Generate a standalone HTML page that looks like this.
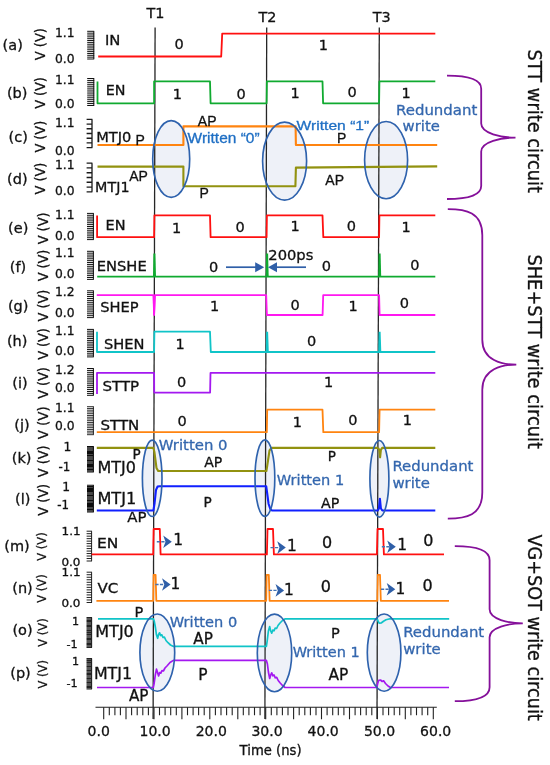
<!DOCTYPE html>
<html><head><meta charset="utf-8"><title>Timing diagram</title>
<style>html,body{margin:0;padding:0;background:#fff}svg{display:block}</style></head>
<body>
<svg width="550" height="765" viewBox="0 0 550 765">
<rect width="550" height="765" fill="#fff"/>
<ellipse cx="171.2" cy="159" rx="18.5" ry="38.4" fill="#eef1f8" stroke="none"/>
<ellipse cx="284.6" cy="161.1" rx="22" ry="39" fill="#eef1f8" stroke="none"/>
<ellipse cx="386.1" cy="160.1" rx="21.5" ry="38.6" fill="#eef1f8" stroke="none"/>
<ellipse cx="152.2" cy="478.3" rx="9.8" ry="38.2" fill="#eef1f8" stroke="none"/>
<ellipse cx="264.9" cy="478.1" rx="9.9" ry="38.3" fill="#eef1f8" stroke="none"/>
<ellipse cx="379.4" cy="478.8" rx="9.5" ry="38.3" fill="#eef1f8" stroke="none"/>
<ellipse cx="157.3" cy="652.6" rx="17.4" ry="38.6" fill="#eef1f8" stroke="none"/>
<ellipse cx="274.5" cy="652.9" rx="17.2" ry="38.8" fill="#eef1f8" stroke="none"/>
<ellipse cx="384.1" cy="652.6" rx="16.8" ry="38.6" fill="#eef1f8" stroke="none"/>
<text x="12.7" y="49.9" font-size="14.5" fill="#111" stroke="#111" stroke-width="0.3" font-family="DejaVu Sans, Liberation Sans, sans-serif" text-anchor="middle" >(a)</text>
<text x="17.2" y="97.9" font-size="14.5" fill="#111" stroke="#111" stroke-width="0.3" font-family="DejaVu Sans, Liberation Sans, sans-serif" text-anchor="middle" >(b)</text>
<text x="18.2" y="141.6" font-size="14.5" fill="#111" stroke="#111" stroke-width="0.3" font-family="DejaVu Sans, Liberation Sans, sans-serif" text-anchor="middle" >(c)</text>
<text x="17.3" y="183.6" font-size="14.5" fill="#111" stroke="#111" stroke-width="0.3" font-family="DejaVu Sans, Liberation Sans, sans-serif" text-anchor="middle" >(d)</text>
<text x="18.2" y="232.8" font-size="14.5" fill="#111" stroke="#111" stroke-width="0.3" font-family="DejaVu Sans, Liberation Sans, sans-serif" text-anchor="middle" >(e)</text>
<text x="18.0" y="272.0" font-size="14.5" fill="#111" stroke="#111" stroke-width="0.3" font-family="DejaVu Sans, Liberation Sans, sans-serif" text-anchor="middle" >(f)</text>
<text x="18.2" y="310.6" font-size="14.5" fill="#111" stroke="#111" stroke-width="0.3" font-family="DejaVu Sans, Liberation Sans, sans-serif" text-anchor="middle" >(g)</text>
<text x="17.2" y="346.2" font-size="14.5" fill="#111" stroke="#111" stroke-width="0.3" font-family="DejaVu Sans, Liberation Sans, sans-serif" text-anchor="middle" >(h)</text>
<text x="20.0" y="388.2" font-size="14.5" fill="#111" stroke="#111" stroke-width="0.3" font-family="DejaVu Sans, Liberation Sans, sans-serif" text-anchor="middle" >(i)</text>
<text x="21.9" y="429.8" font-size="14.5" fill="#111" stroke="#111" stroke-width="0.3" font-family="DejaVu Sans, Liberation Sans, sans-serif" text-anchor="middle" >(j)</text>
<text x="21.6" y="462.9" font-size="14.5" fill="#111" stroke="#111" stroke-width="0.3" font-family="DejaVu Sans, Liberation Sans, sans-serif" text-anchor="middle" >(k)</text>
<text x="22.7" y="504.3" font-size="14.5" fill="#111" stroke="#111" stroke-width="0.3" font-family="DejaVu Sans, Liberation Sans, sans-serif" text-anchor="middle" >(l)</text>
<text x="17.0" y="551.1" font-size="14.5" fill="#111" stroke="#111" stroke-width="0.3" font-family="DejaVu Sans, Liberation Sans, sans-serif" text-anchor="middle" >(m)</text>
<text x="22.5" y="593.1" font-size="14.5" fill="#111" stroke="#111" stroke-width="0.3" font-family="DejaVu Sans, Liberation Sans, sans-serif" text-anchor="middle" >(n)</text>
<text x="22.5" y="635.3" font-size="14.5" fill="#111" stroke="#111" stroke-width="0.3" font-family="DejaVu Sans, Liberation Sans, sans-serif" text-anchor="middle" >(o)</text>
<text x="20.5" y="677.9" font-size="14.5" fill="#111" stroke="#111" stroke-width="0.3" font-family="DejaVu Sans, Liberation Sans, sans-serif" text-anchor="middle" >(p)</text>
<text transform="translate(45.1,44.2) rotate(-90) scale(0.92,1)" font-size="14.2" fill="#111" stroke="#111" stroke-width="0.3" font-family="DejaVu Sans, Liberation Sans, sans-serif" text-anchor="middle">V (V)</text>
<text transform="translate(45.3,93.0) rotate(-90) scale(0.92,1)" font-size="14" fill="#111" stroke="#111" stroke-width="0.3" font-family="DejaVu Sans, Liberation Sans, sans-serif" text-anchor="middle">V (V)</text>
<text transform="translate(45.3,136.7) rotate(-90) scale(0.92,1)" font-size="14" fill="#111" stroke="#111" stroke-width="0.3" font-family="DejaVu Sans, Liberation Sans, sans-serif" text-anchor="middle">V (V)</text>
<text transform="translate(45.3,178.6) rotate(-90) scale(0.92,1)" font-size="14" fill="#111" stroke="#111" stroke-width="0.3" font-family="DejaVu Sans, Liberation Sans, sans-serif" text-anchor="middle">V (V)</text>
<text transform="translate(48.2,228.4) rotate(-90) scale(0.92,1)" font-size="14" fill="#111" stroke="#111" stroke-width="0.3" font-family="DejaVu Sans, Liberation Sans, sans-serif" text-anchor="middle">V (V)</text>
<text transform="translate(48.2,265.5) rotate(-90) scale(0.92,1)" font-size="14" fill="#111" stroke="#111" stroke-width="0.3" font-family="DejaVu Sans, Liberation Sans, sans-serif" text-anchor="middle">V (V)</text>
<text transform="translate(48.2,305.6) rotate(-90) scale(0.92,1)" font-size="14" fill="#111" stroke="#111" stroke-width="0.3" font-family="DejaVu Sans, Liberation Sans, sans-serif" text-anchor="middle">V (V)</text>
<text transform="translate(48.2,344.0) rotate(-90) scale(0.92,1)" font-size="14" fill="#111" stroke="#111" stroke-width="0.3" font-family="DejaVu Sans, Liberation Sans, sans-serif" text-anchor="middle">V (V)</text>
<text transform="translate(48.2,383.0) rotate(-90) scale(0.92,1)" font-size="14" fill="#111" stroke="#111" stroke-width="0.3" font-family="DejaVu Sans, Liberation Sans, sans-serif" text-anchor="middle">V (V)</text>
<text transform="translate(48.2,422.8) rotate(-90) scale(0.92,1)" font-size="14.6" fill="#111" stroke="#111" stroke-width="0.3" font-family="DejaVu Sans, Liberation Sans, sans-serif" text-anchor="middle">V (V)</text>
<text transform="translate(48.2,461.3) rotate(-90) scale(0.92,1)" font-size="14" fill="#111" stroke="#111" stroke-width="0.3" font-family="DejaVu Sans, Liberation Sans, sans-serif" text-anchor="middle">V (V)</text>
<text transform="translate(48.2,499.8) rotate(-90) scale(0.92,1)" font-size="14" fill="#111" stroke="#111" stroke-width="0.3" font-family="DejaVu Sans, Liberation Sans, sans-serif" text-anchor="middle">V (V)</text>
<text transform="translate(46.4,546.5) rotate(-90) scale(0.92,1)" font-size="12.5" fill="#111" stroke="#111" stroke-width="0.3" font-family="DejaVu Sans, Liberation Sans, sans-serif" text-anchor="middle">V (V)</text>
<text transform="translate(46.4,588.5) rotate(-90) scale(0.92,1)" font-size="12.5" fill="#111" stroke="#111" stroke-width="0.3" font-family="DejaVu Sans, Liberation Sans, sans-serif" text-anchor="middle">V (V)</text>
<text transform="translate(46.6,632.5) rotate(-90) scale(0.92,1)" font-size="12.5" fill="#111" stroke="#111" stroke-width="0.3" font-family="DejaVu Sans, Liberation Sans, sans-serif" text-anchor="middle">V (V)</text>
<text transform="translate(46.6,674.3) rotate(-90) scale(0.92,1)" font-size="12.5" fill="#111" stroke="#111" stroke-width="0.3" font-family="DejaVu Sans, Liberation Sans, sans-serif" text-anchor="middle">V (V)</text>
<text x="55.0" y="36.8" font-size="12.3" fill="#111" stroke="#111" stroke-width="0.3" font-family="DejaVu Sans, Liberation Sans, sans-serif" text-anchor="start" >1.1</text>
<text x="55.0" y="62.5" font-size="12.3" fill="#111" stroke="#111" stroke-width="0.3" font-family="DejaVu Sans, Liberation Sans, sans-serif" text-anchor="start" >0.0</text>
<text x="55.0" y="83.9" font-size="12.3" fill="#111" stroke="#111" stroke-width="0.3" font-family="DejaVu Sans, Liberation Sans, sans-serif" text-anchor="start" >1.1</text>
<text x="55.0" y="108.4" font-size="12.3" fill="#111" stroke="#111" stroke-width="0.3" font-family="DejaVu Sans, Liberation Sans, sans-serif" text-anchor="start" >0.0</text>
<text x="55.0" y="126.9" font-size="12.3" fill="#111" stroke="#111" stroke-width="0.3" font-family="DejaVu Sans, Liberation Sans, sans-serif" text-anchor="start" >1.1</text>
<text x="55.0" y="154.9" font-size="12.3" fill="#111" stroke="#111" stroke-width="0.3" font-family="DejaVu Sans, Liberation Sans, sans-serif" text-anchor="start" >0.0</text>
<text x="55.0" y="168.9" font-size="12.3" fill="#111" stroke="#111" stroke-width="0.3" font-family="DejaVu Sans, Liberation Sans, sans-serif" text-anchor="start" >1.1</text>
<text x="55.0" y="194.9" font-size="12.3" fill="#111" stroke="#111" stroke-width="0.3" font-family="DejaVu Sans, Liberation Sans, sans-serif" text-anchor="start" >0.0</text>
<text x="55.0" y="218.5" font-size="12.3" fill="#111" stroke="#111" stroke-width="0.3" font-family="DejaVu Sans, Liberation Sans, sans-serif" text-anchor="start" >1.1</text>
<text x="55.0" y="240.4" font-size="12.3" fill="#111" stroke="#111" stroke-width="0.3" font-family="DejaVu Sans, Liberation Sans, sans-serif" text-anchor="start" >0.0</text>
<text x="55.0" y="256.9" font-size="12.3" fill="#111" stroke="#111" stroke-width="0.3" font-family="DejaVu Sans, Liberation Sans, sans-serif" text-anchor="start" >1.1</text>
<text x="55.0" y="278.2" font-size="12.3" fill="#111" stroke="#111" stroke-width="0.3" font-family="DejaVu Sans, Liberation Sans, sans-serif" text-anchor="start" >0.0</text>
<text x="55.0" y="295.9" font-size="12.3" fill="#111" stroke="#111" stroke-width="0.3" font-family="DejaVu Sans, Liberation Sans, sans-serif" text-anchor="start" >1.2</text>
<text x="55.0" y="317.4" font-size="12.3" fill="#111" stroke="#111" stroke-width="0.3" font-family="DejaVu Sans, Liberation Sans, sans-serif" text-anchor="start" >0.0</text>
<text x="55.0" y="334.9" font-size="12.3" fill="#111" stroke="#111" stroke-width="0.3" font-family="DejaVu Sans, Liberation Sans, sans-serif" text-anchor="start" >1.1</text>
<text x="55.0" y="355.4" font-size="12.3" fill="#111" stroke="#111" stroke-width="0.3" font-family="DejaVu Sans, Liberation Sans, sans-serif" text-anchor="start" >0.0</text>
<text x="55.0" y="374.0" font-size="12.3" fill="#111" stroke="#111" stroke-width="0.3" font-family="DejaVu Sans, Liberation Sans, sans-serif" text-anchor="start" >1.2</text>
<text x="55.0" y="392.1" font-size="12.3" fill="#111" stroke="#111" stroke-width="0.3" font-family="DejaVu Sans, Liberation Sans, sans-serif" text-anchor="start" >0.0</text>
<text x="55.0" y="412.4" font-size="12.3" fill="#111" stroke="#111" stroke-width="0.3" font-family="DejaVu Sans, Liberation Sans, sans-serif" text-anchor="start" >1.1</text>
<text x="55.0" y="430.4" font-size="12.3" fill="#111" stroke="#111" stroke-width="0.3" font-family="DejaVu Sans, Liberation Sans, sans-serif" text-anchor="start" >0.0</text>
<text x="63.6" y="451.4" font-size="12.3" fill="#111" stroke="#111" stroke-width="0.3" font-family="DejaVu Sans, Liberation Sans, sans-serif" text-anchor="start" >1</text>
<text x="58.6" y="470.6" font-size="11.8" fill="#111" stroke="#111" stroke-width="0.3" font-family="DejaVu Sans, Liberation Sans, sans-serif" text-anchor="start" >-1</text>
<text x="62.3" y="490.9" font-size="12.3" fill="#111" stroke="#111" stroke-width="0.3" font-family="DejaVu Sans, Liberation Sans, sans-serif" text-anchor="start" >1</text>
<text x="57.3" y="508.6" font-size="11.8" fill="#111" stroke="#111" stroke-width="0.3" font-family="DejaVu Sans, Liberation Sans, sans-serif" text-anchor="start" >-1</text>
<text transform="translate(61.6,535.4) scale(1.1,1)" font-size="10.9" fill="#111" stroke="#111" stroke-width="0.3" font-family="DejaVu Sans, Liberation Sans, sans-serif" text-anchor="start">1.1</text>
<text transform="translate(61.4,565.5) scale(1.1,1)" font-size="10.9" fill="#111" stroke="#111" stroke-width="0.3" font-family="DejaVu Sans, Liberation Sans, sans-serif" text-anchor="start">0.0</text>
<text transform="translate(61.6,576.0) scale(1.1,1)" font-size="10.9" fill="#111" stroke="#111" stroke-width="0.3" font-family="DejaVu Sans, Liberation Sans, sans-serif" text-anchor="start">1.1</text>
<text transform="translate(61.4,606.9) scale(1.1,1)" font-size="10.9" fill="#111" stroke="#111" stroke-width="0.3" font-family="DejaVu Sans, Liberation Sans, sans-serif" text-anchor="start">0.0</text>
<text x="72.0" y="625.0" font-size="11.2" fill="#111" stroke="#111" stroke-width="0.3" font-family="DejaVu Sans, Liberation Sans, sans-serif" text-anchor="start" >1</text>
<text x="66.5" y="647.6" font-size="11.2" fill="#111" stroke="#111" stroke-width="0.3" font-family="DejaVu Sans, Liberation Sans, sans-serif" text-anchor="start" >-1</text>
<text x="72.0" y="664.8" font-size="11.2" fill="#111" stroke="#111" stroke-width="0.3" font-family="DejaVu Sans, Liberation Sans, sans-serif" text-anchor="start" >1</text>
<text x="66.5" y="687.2" font-size="11.2" fill="#111" stroke="#111" stroke-width="0.3" font-family="DejaVu Sans, Liberation Sans, sans-serif" text-anchor="start" >-1</text>
<path d="M87.2,31.30H94.2M87.2,33.15H94.2M87.2,34.99H94.2M87.2,36.84H94.2M87.2,38.69H94.2M87.2,40.53H94.2M87.2,42.38H94.2M87.2,44.23H94.2M87.2,46.07H94.2M87.2,47.92H94.2M87.2,49.77H94.2M87.2,51.61H94.2M87.2,53.46H94.2M87.2,55.31H94.2M87.2,57.15H94.2M87.2,59.00H94.2M93.8,31.3V59.0" stroke="#111" stroke-width="1.0" fill="none"/>
<path d="M87.2,78.50H94.2M87.2,80.43H94.2M87.2,82.36H94.2M87.2,84.29H94.2M87.2,86.21H94.2M87.2,88.14H94.2M87.2,90.07H94.2M87.2,92.00H94.2M87.2,93.93H94.2M87.2,95.86H94.2M87.2,97.79H94.2M87.2,99.71H94.2M87.2,101.64H94.2M87.2,103.57H94.2M87.2,105.50H94.2M93.8,78.5V105.5" stroke="#111" stroke-width="1.0" fill="none"/>
<path d="M86.6,119.30H92.4M86.6,124.03H92.4M86.6,128.77H92.4M86.6,133.50H92.4M86.6,138.23H92.4M86.6,142.97H92.4M86.6,147.70H92.4M92.0,119.3V147.7" stroke="#1a1a1a" stroke-width="1.3" fill="none"/>
<path d="M86.6,163.20H92.4M86.6,167.97H92.4M86.6,172.73H92.4M86.6,177.50H92.4M86.6,182.27H92.4M86.6,187.03H92.4M86.6,191.80H92.4M92.0,163.2V191.8" stroke="#1a1a1a" stroke-width="1.3" fill="none"/>
<path d="M87.0,213.40H93.8M87.0,215.27H93.8M87.0,217.14H93.8M87.0,219.01H93.8M87.0,220.89H93.8M87.0,222.76H93.8M87.0,224.63H93.8M87.0,226.50H93.8M87.0,228.37H93.8M87.0,230.24H93.8M87.0,232.11H93.8M87.0,233.99H93.8M87.0,235.86H93.8M87.0,237.73H93.8M87.0,239.60H93.8M93.4,213.4V239.6" stroke="#111" stroke-width="1.0" fill="none"/>
<path d="M87.0,251.30H93.8M87.0,253.17H93.8M87.0,255.05H93.8M87.0,256.92H93.8M87.0,258.79H93.8M87.0,260.67H93.8M87.0,262.54H93.8M87.0,264.41H93.8M87.0,266.29H93.8M87.0,268.16H93.8M87.0,270.03H93.8M87.0,271.91H93.8M87.0,273.78H93.8M87.0,275.65H93.8M87.0,277.53H93.8M87.0,279.40H93.8M93.4,251.3V279.4" stroke="#111" stroke-width="1.0" fill="none"/>
<path d="M87.0,290.80H93.8M87.0,292.71H93.8M87.0,294.63H93.8M87.0,296.54H93.8M87.0,298.46H93.8M87.0,300.37H93.8M87.0,302.29H93.8M87.0,304.20H93.8M87.0,306.11H93.8M87.0,308.03H93.8M87.0,309.94H93.8M87.0,311.86H93.8M87.0,313.77H93.8M87.0,315.69H93.8M87.0,317.60H93.8M93.4,290.8V317.6" stroke="#111" stroke-width="1.0" fill="none"/>
<path d="M87.0,329.40H93.8M87.0,331.23H93.8M87.0,333.07H93.8M87.0,334.90H93.8M87.0,336.73H93.8M87.0,338.57H93.8M87.0,340.40H93.8M87.0,342.23H93.8M87.0,344.07H93.8M87.0,345.90H93.8M87.0,347.73H93.8M87.0,349.57H93.8M87.0,351.40H93.8M87.0,353.23H93.8M87.0,355.07H93.8M87.0,356.90H93.8M93.4,329.4V356.9" stroke="#111" stroke-width="1.0" fill="none"/>
<path d="M87.0,368.50H93.8M87.0,370.41H93.8M87.0,372.33H93.8M87.0,374.24H93.8M87.0,376.16H93.8M87.0,378.07H93.8M87.0,379.99H93.8M87.0,381.90H93.8M87.0,383.81H93.8M87.0,385.73H93.8M87.0,387.64H93.8M87.0,389.56H93.8M87.0,391.47H93.8M87.0,393.39H93.8M87.0,395.30H93.8M93.4,368.5V395.3" stroke="#111" stroke-width="1.0" fill="none"/>
<path d="M87.0,406.70H93.8M87.0,408.45H93.8M87.0,410.20H93.8M87.0,411.95H93.8M87.0,413.70H93.8M87.0,415.45H93.8M87.0,417.20H93.8M87.0,418.95H93.8M87.0,420.70H93.8M87.0,422.45H93.8M87.0,424.20H93.8M87.0,425.95H93.8M87.0,427.70H93.8M87.0,429.45H93.8M87.0,431.20H93.8M87.0,432.95H93.8M87.0,434.70H93.8M93.4,406.7V434.7" stroke="#181818" stroke-width="0.9" fill="none"/>
<path d="M87.0,446.50H93.8M87.0,447.77H93.8M87.0,449.05H93.8M87.0,450.32H93.8M87.0,451.60H93.8M87.0,452.88H93.8M87.0,454.15H93.8M87.0,455.43H93.8M87.0,456.70H93.8M87.0,457.98H93.8M87.0,459.25H93.8M87.0,460.52H93.8M87.0,461.80H93.8M87.0,463.07H93.8M87.0,464.35H93.8M87.0,465.62H93.8M87.0,466.90H93.8M87.0,468.18H93.8M87.0,469.45H93.8M87.0,470.73H93.8M87.0,472.00H93.8M93.4,446.5V472.0" stroke="#0c0c0c" stroke-width="1.08" fill="none"/>
<path d="M87.0,485.30H93.8M87.0,486.57H93.8M87.0,487.84H93.8M87.0,489.11H93.8M87.0,490.39H93.8M87.0,491.66H93.8M87.0,492.93H93.8M87.0,494.20H93.8M87.0,495.47H93.8M87.0,496.74H93.8M87.0,498.01H93.8M87.0,499.29H93.8M87.0,500.56H93.8M87.0,501.83H93.8M87.0,503.10H93.8M87.0,504.37H93.8M87.0,505.64H93.8M87.0,506.91H93.8M87.0,508.19H93.8M87.0,509.46H93.8M87.0,510.73H93.8M87.0,512.00H93.8M93.4,485.3V512.0" stroke="#0c0c0c" stroke-width="1.08" fill="none"/>
<path d="M86.6,531.20H92.0M86.6,533.68H92.0M86.6,536.17H92.0M86.6,538.65H92.0M86.6,541.13H92.0M86.6,543.62H92.0M86.6,546.10H92.0M86.6,548.58H92.0M86.6,551.07H92.0M86.6,553.55H92.0M86.6,556.03H92.0M86.6,558.52H92.0M86.6,561.00H92.0M91.6,531.2V561.0" stroke="#222" stroke-width="1.0" fill="none"/>
<path d="M86.6,572.20H92.0M86.6,574.73H92.0M86.6,577.25H92.0M86.6,579.78H92.0M86.6,582.30H92.0M86.6,584.83H92.0M86.6,587.35H92.0M86.6,589.88H92.0M86.6,592.40H92.0M86.6,594.92H92.0M86.6,597.45H92.0M86.6,599.98H92.0M86.6,602.50H92.0M91.6,572.2V602.5" stroke="#222" stroke-width="1.0" fill="none"/>
<path d="M86.5,617.50H92.0M86.5,618.80H92.0M86.5,620.11H92.0M86.5,621.41H92.0M86.5,622.72H92.0M86.5,624.02H92.0M86.5,625.33H92.0M86.5,626.63H92.0M86.5,627.93H92.0M86.5,629.24H92.0M86.5,630.54H92.0M86.5,631.85H92.0M86.5,633.15H92.0M86.5,634.46H92.0M86.5,635.76H92.0M86.5,637.07H92.0M86.5,638.37H92.0M86.5,639.67H92.0M86.5,640.98H92.0M86.5,642.28H92.0M86.5,643.59H92.0M86.5,644.89H92.0M86.5,646.20H92.0M86.5,647.50H92.0M91.6,617.5V647.5" stroke="#222" stroke-width="1.1" fill="none"/>
<path d="M86.5,658.50H92.0M86.5,659.83H92.0M86.5,661.15H92.0M86.5,662.48H92.0M86.5,663.80H92.0M86.5,665.13H92.0M86.5,666.46H92.0M86.5,667.78H92.0M86.5,669.11H92.0M86.5,670.43H92.0M86.5,671.76H92.0M86.5,673.09H92.0M86.5,674.41H92.0M86.5,675.74H92.0M86.5,677.07H92.0M86.5,678.39H92.0M86.5,679.72H92.0M86.5,681.04H92.0M86.5,682.37H92.0M86.5,683.70H92.0M86.5,685.02H92.0M86.5,686.35H92.0M86.5,687.67H92.0M86.5,689.00H92.0M91.6,658.5V689.0" stroke="#222" stroke-width="1.1" fill="none"/>
<line x1="155.1" y1="27.4" x2="153.1" y2="719" stroke="#262626" stroke-width="1.3"/>
<line x1="266.7" y1="27.4" x2="264.9" y2="719" stroke="#262626" stroke-width="1.3"/>
<line x1="379.3" y1="27.4" x2="377.0" y2="719" stroke="#262626" stroke-width="1.3"/>
<text x="155.5" y="17.8" font-size="14.4" fill="#111" stroke="#111" stroke-width="0.3" font-family="DejaVu Sans, Liberation Sans, sans-serif" text-anchor="middle" >T1</text>
<text x="267.5" y="21.8" font-size="14.4" fill="#111" stroke="#111" stroke-width="0.3" font-family="DejaVu Sans, Liberation Sans, sans-serif" text-anchor="middle" >T2</text>
<text x="381.8" y="21.8" font-size="14.4" fill="#111" stroke="#111" stroke-width="0.3" font-family="DejaVu Sans, Liberation Sans, sans-serif" text-anchor="middle" >T3</text>
<polyline points="98.2,56.5 221.2,56.5 222.2,33.6 435.3,33.6" fill="none" stroke="#ff1010" stroke-width="1.8" stroke-linejoin="round" />
<polyline points="97.5,81.4 97.5,103.3 154.1,103.3 154.1,81.4 210.0,81.4 210.6,103.3 266.6,103.3 266.9,81.4 322.5,81.4 323.1,103.3 379.1,103.3 379.4,81.4 435.3,81.4" fill="none" stroke="#10aa30" stroke-width="1.8" stroke-linejoin="round" />
<polyline points="97.5,145.0 183.4,145.0 183.4,126.4 295.6,126.4 295.9,145.0 437.2,145.0" fill="none" stroke="#ff8410" stroke-width="2.1" stroke-linejoin="round" />
<polyline points="97.5,166.6 183.4,166.6 183.4,186.2 295.4,186.2 295.9,167.6 437.2,166.4" fill="none" stroke="#929210" stroke-width="2.1" stroke-linejoin="round" />
<polyline points="97.1,215.4 97.1,237.2 154.1,237.2 154.4,215.4 210.0,215.4 210.6,237.2 266.6,237.2 266.9,215.4 322.5,215.4 323.3,237.2 379.1,237.2 379.4,215.4 435.3,215.4" fill="none" stroke="#ff1010" stroke-width="1.8" stroke-linejoin="round" />
<polyline points="97.2,276.7 435.3,276.7" fill="none" stroke="#10aa30" stroke-width="1.8" stroke-linejoin="round" />
<path d="M153.0,276.7L153.4,253.6L155.4,253.6L156.0,276.7Z" fill="#10aa30"/>
<path d="M265.7,276.7L266.1,253.6L268.1,253.6L268.7,276.7Z" fill="#10aa30"/>
<path d="M378.2,276.7L378.6,253.6L380.6,253.6L381.2,276.7Z" fill="#10aa30"/>
<polyline points="96.8,295.2 153.5,295.2 154.1,315.0 154.9,295.2 266.2,295.2 266.9,315.0 322.6,315.0 323.2,295.2 379.1,295.2 379.6,315.0 435.3,315.0" fill="none" stroke="#ff18f0" stroke-width="1.8" stroke-linejoin="round" />
<path d="M152.8,295.2L153.2,315L155.0,315L155.6,295.2Z" fill="#ff18f0"/>
<polyline points="97.0,331.7 97.0,352.0 154.1,352.0 154.4,331.7 210.0,331.7 210.8,352.0 435.3,352.0" fill="none" stroke="#10c4c8" stroke-width="1.8" stroke-linejoin="round" />
<path d="M265.7,352L266.1,331.7L268.1,331.7L268.8,352Z" fill="#10c4c8"/>
<path d="M378.2,352L378.6,331.7L380.6,331.7L381.3,352Z" fill="#10c4c8"/>
<polyline points="97.0,394.1 97.0,372.9 154.1,372.9 154.2,392.6 210.1,392.6 210.5,372.9 435.3,372.9" fill="none" stroke="#a418f0" stroke-width="1.8" stroke-linejoin="round" />
<polyline points="96.8,432.2 266.8,432.2 267.2,409.7 322.5,409.7 323.3,432.2 379.1,432.2 379.6,409.7 435.3,409.7" fill="none" stroke="#ff8410" stroke-width="1.8" stroke-linejoin="round" />
<polyline points="96.8,447.9 153.4,447.9 154.4,452.0 156.5,468.0 158.2,471.0 266.4,471.0 267.2,466.0 269.5,450.5 271.5,447.9 378.2,447.9" fill="none" stroke="#929210" stroke-width="2.1" stroke-linejoin="round" />
<polyline points="378.2,447.9 379.3,449.9 380.1,457.3 380.9,449.9 382.2,447.9 435.3,447.9" fill="none" stroke="#929210" stroke-width="2.1" stroke-linejoin="round" />
<polyline points="96.8,510.5 153.4,510.5 154.6,503.0 156.0,490.0 157.5,486.6 159.5,486.2 266.2,486.2 267.0,492.0 268.6,504.0 270.3,509.0 272.0,510.5 377.8,510.5 378.9,508.5 379.9,498.7 380.9,508.5 382.3,510.5 435.3,510.5" fill="none" stroke="#1020ff" stroke-width="2.1" stroke-linejoin="round" />
<polyline points="91.6,554.4 153.2,554.4 153.6,529.0 159.8,529.0 160.6,554.4 266.9,554.4 267.5,529.0 273.0,529.0 273.9,554.4 376.9,554.4 377.5,529.0 383.0,529.0 383.9,554.4 444.0,554.4" fill="none" stroke="#ff1010" stroke-width="1.8" stroke-linejoin="round" />
<polyline points="96.4,600.8 153.2,600.8 153.6,574.8 155.6,574.8 156.3,600.8 266.2,600.8 266.7,574.8 268.8,574.8 269.6,600.8 377.3,600.8 377.8,574.8 380.0,574.8 380.8,600.8 449.0,600.8" fill="none" stroke="#ff8410" stroke-width="1.8" stroke-linejoin="round" />
<polyline points="98.0,618.8 153.4,618.8 154.2,621.0 155.5,628.0 156.4,634.5 157.6,638.3 158.6,634.5 159.6,632.8 160.6,635.5 161.8,634.8 163.0,637.5 164.4,637.2 166.0,640.5 168.0,642.7 170.5,645.0 173.5,646.4 266.4,646.4 267.3,640.0 268.4,631.0 269.7,626.6 270.7,631.0 271.7,633.2 272.8,630.0 274.0,630.8 275.2,628.0 276.6,628.5 278.0,625.5 280.0,623.0 282.5,620.5 285.3,618.8 377.2,618.8 378.2,621.5 379.3,623.2 381.5,622.8 383.5,621.3 386.0,619.8 390.0,618.8 449.2,618.8" fill="none" stroke="#10c4c8" stroke-width="1.7" stroke-linejoin="round" />
<polyline points="97.0,687.5 153.3,687.5 154.2,683.0 155.3,675.0 156.5,669.2 157.6,672.5 158.6,676.0 159.7,672.5 160.8,673.2 162.0,670.5 163.4,671.0 165.0,668.0 167.4,665.5 170.0,662.5 173.4,660.4 266.4,660.4 267.4,664.0 268.4,672.0 269.7,678.5 270.7,675.0 271.7,672.8 272.8,675.8 274.0,675.0 275.3,677.8 276.7,677.3 278.2,680.5 280.2,683.0 282.5,685.5 285.0,687.5 376.8,687.5 377.8,683.0 378.8,680.3 380.5,680.0 382.2,681.5 383.6,680.8 385.5,683.5 388.0,686.0 390.5,687.5 449.0,687.5" fill="none" stroke="#a418f0" stroke-width="1.7" stroke-linejoin="round" />
<ellipse cx="171.2" cy="159" rx="18.5" ry="38.4" fill="none" stroke="#2e62ad" stroke-width="1.65"/>
<ellipse cx="284.6" cy="161.1" rx="22" ry="39" fill="none" stroke="#2e62ad" stroke-width="1.65"/>
<ellipse cx="386.1" cy="160.1" rx="21.5" ry="38.6" fill="none" stroke="#2e62ad" stroke-width="1.65"/>
<ellipse cx="152.2" cy="478.3" rx="9.8" ry="38.2" fill="none" stroke="#2e62ad" stroke-width="1.65"/>
<ellipse cx="264.9" cy="478.1" rx="9.9" ry="38.3" fill="none" stroke="#2e62ad" stroke-width="1.65"/>
<ellipse cx="379.4" cy="478.8" rx="9.5" ry="38.3" fill="none" stroke="#2e62ad" stroke-width="1.65"/>
<ellipse cx="157.3" cy="652.6" rx="17.4" ry="38.6" fill="none" stroke="#2e62ad" stroke-width="1.65"/>
<ellipse cx="274.5" cy="652.9" rx="17.2" ry="38.8" fill="none" stroke="#2e62ad" stroke-width="1.65"/>
<ellipse cx="384.1" cy="652.6" rx="16.8" ry="38.6" fill="none" stroke="#2e62ad" stroke-width="1.65"/>
<text transform="translate(104.9,45.2) scale(1.03,1)" font-size="14.4" fill="#111" stroke="#111" stroke-width="0.3" font-family="DejaVu Sans, Liberation Sans, sans-serif" text-anchor="start">IN</text>
<text transform="translate(105.8,94.9) scale(1.045,1)" font-size="13.7" fill="#111" stroke="#111" stroke-width="0.3" font-family="DejaVu Sans, Liberation Sans, sans-serif" text-anchor="start">EN</text>
<text transform="translate(96.2,141.9) scale(1.0,1)" font-size="14.6" fill="#111" stroke="#111" stroke-width="0.3" font-family="DejaVu Sans, Liberation Sans, sans-serif" text-anchor="start">MTJ0</text>
<text transform="translate(95.1,192.3) scale(1.0,1)" font-size="14.3" fill="#111" stroke="#111" stroke-width="0.3" font-family="DejaVu Sans, Liberation Sans, sans-serif" text-anchor="start">MTJ1</text>
<text transform="translate(105.6,229.6) scale(1.066,1)" font-size="13.6" fill="#111" stroke="#111" stroke-width="0.3" font-family="DejaVu Sans, Liberation Sans, sans-serif" text-anchor="start">EN</text>
<text transform="translate(96.8,271.0) scale(1.08,1)" font-size="13.6" fill="#111" stroke="#111" stroke-width="0.3" font-family="DejaVu Sans, Liberation Sans, sans-serif" text-anchor="start">ENSHE</text>
<text transform="translate(100.3,311.6) scale(1.07,1)" font-size="13.7" fill="#111" stroke="#111" stroke-width="0.3" font-family="DejaVu Sans, Liberation Sans, sans-serif" text-anchor="start">SHEP</text>
<text transform="translate(104.0,348.5) scale(1.055,1)" font-size="13.9" fill="#111" stroke="#111" stroke-width="0.3" font-family="DejaVu Sans, Liberation Sans, sans-serif" text-anchor="start">SHEN</text>
<text transform="translate(102.5,390.7) scale(1.08,1)" font-size="13.9" fill="#111" stroke="#111" stroke-width="0.3" font-family="DejaVu Sans, Liberation Sans, sans-serif" text-anchor="start">STTP</text>
<text transform="translate(100.5,429.6) scale(1.08,1)" font-size="13.9" fill="#111" stroke="#111" stroke-width="0.3" font-family="DejaVu Sans, Liberation Sans, sans-serif" text-anchor="start">STTN</text>
<text transform="translate(97.5,473.3) scale(1.06,1)" font-size="15.1" fill="#111" stroke="#111" stroke-width="0.3" font-family="DejaVu Sans, Liberation Sans, sans-serif" text-anchor="start">MTJ0</text>
<text transform="translate(97.4,504.2) scale(1.07,1)" font-size="15.1" fill="#111" stroke="#111" stroke-width="0.3" font-family="DejaVu Sans, Liberation Sans, sans-serif" text-anchor="start">MTJ1</text>
<text transform="translate(97.0,548.3) scale(1.13,1)" font-size="13.7" fill="#111" stroke="#111" stroke-width="0.3" font-family="DejaVu Sans, Liberation Sans, sans-serif" text-anchor="start">EN</text>
<text transform="translate(97.5,593.4) scale(1.08,1)" font-size="13.9" fill="#111" stroke="#111" stroke-width="0.3" font-family="DejaVu Sans, Liberation Sans, sans-serif" text-anchor="start">VC</text>
<text transform="translate(95.3,637.0) scale(1.04,1)" font-size="15.4" fill="#111" stroke="#111" stroke-width="0.3" font-family="DejaVu Sans, Liberation Sans, sans-serif" text-anchor="start">MTJ0</text>
<text transform="translate(93.9,679.2) scale(1.03,1)" font-size="15.4" fill="#111" stroke="#111" stroke-width="0.3" font-family="DejaVu Sans, Liberation Sans, sans-serif" text-anchor="start">MTJ1</text>
<text transform="translate(178.2,545.3) scale(0.94,1)" font-size="16.4" fill="#111" stroke="#111" stroke-width="0.3" font-family="DejaVu Sans, Liberation Sans, sans-serif" text-anchor="middle">1</text>
<text transform="translate(175.5,589.4) scale(0.94,1)" font-size="16.4" fill="#111" stroke="#111" stroke-width="0.3" font-family="DejaVu Sans, Liberation Sans, sans-serif" text-anchor="middle">1</text>
<text transform="translate(292.0,551.4) scale(0.94,1)" font-size="16.4" fill="#111" stroke="#111" stroke-width="0.3" font-family="DejaVu Sans, Liberation Sans, sans-serif" text-anchor="middle">1</text>
<text transform="translate(288.8,594.5) scale(0.94,1)" font-size="16.4" fill="#111" stroke="#111" stroke-width="0.3" font-family="DejaVu Sans, Liberation Sans, sans-serif" text-anchor="middle">1</text>
<text transform="translate(402.1,550.0) scale(0.94,1)" font-size="16.4" fill="#111" stroke="#111" stroke-width="0.3" font-family="DejaVu Sans, Liberation Sans, sans-serif" text-anchor="middle">1</text>
<text transform="translate(400.3,593.9) scale(0.94,1)" font-size="16.4" fill="#111" stroke="#111" stroke-width="0.3" font-family="DejaVu Sans, Liberation Sans, sans-serif" text-anchor="middle">1</text>
<text transform="translate(327.0,547.6) scale(1.06,1)" font-size="15.1" fill="#111" stroke="#111" stroke-width="0.3" font-family="DejaVu Sans, Liberation Sans, sans-serif" text-anchor="middle">0</text>
<text transform="translate(325.8,592.0) scale(1.06,1)" font-size="15.1" fill="#111" stroke="#111" stroke-width="0.3" font-family="DejaVu Sans, Liberation Sans, sans-serif" text-anchor="middle">0</text>
<text transform="translate(428.4,546.2) scale(1.06,1)" font-size="15.1" fill="#111" stroke="#111" stroke-width="0.3" font-family="DejaVu Sans, Liberation Sans, sans-serif" text-anchor="middle">0</text>
<text transform="translate(427.6,590.8) scale(1.06,1)" font-size="15.1" fill="#111" stroke="#111" stroke-width="0.3" font-family="DejaVu Sans, Liberation Sans, sans-serif" text-anchor="middle">0</text>
<text x="179.0" y="48.5" font-size="14.5" fill="#111" stroke="#111" stroke-width="0.3" font-family="DejaVu Sans, Liberation Sans, sans-serif" text-anchor="middle" >0</text>
<text x="323.4" y="49.6" font-size="14.5" fill="#111" stroke="#111" stroke-width="0.3" font-family="DejaVu Sans, Liberation Sans, sans-serif" text-anchor="middle" >1</text>
<text x="177.4" y="98.5" font-size="14.5" fill="#111" stroke="#111" stroke-width="0.3" font-family="DejaVu Sans, Liberation Sans, sans-serif" text-anchor="middle" >1</text>
<text x="241.0" y="98.5" font-size="14.5" fill="#111" stroke="#111" stroke-width="0.3" font-family="DejaVu Sans, Liberation Sans, sans-serif" text-anchor="middle" >0</text>
<text x="295.0" y="97.5" font-size="14.5" fill="#111" stroke="#111" stroke-width="0.3" font-family="DejaVu Sans, Liberation Sans, sans-serif" text-anchor="middle" >1</text>
<text x="352.0" y="97.3" font-size="14.5" fill="#111" stroke="#111" stroke-width="0.3" font-family="DejaVu Sans, Liberation Sans, sans-serif" text-anchor="middle" >0</text>
<text x="406.0" y="97.6" font-size="14.5" fill="#111" stroke="#111" stroke-width="0.3" font-family="DejaVu Sans, Liberation Sans, sans-serif" text-anchor="middle" >1</text>
<text x="176.6" y="233.3" font-size="14.5" fill="#111" stroke="#111" stroke-width="0.3" font-family="DejaVu Sans, Liberation Sans, sans-serif" text-anchor="middle" >1</text>
<text x="240.2" y="232.0" font-size="14.5" fill="#111" stroke="#111" stroke-width="0.3" font-family="DejaVu Sans, Liberation Sans, sans-serif" text-anchor="middle" >0</text>
<text x="295.0" y="231.2" font-size="14.5" fill="#111" stroke="#111" stroke-width="0.3" font-family="DejaVu Sans, Liberation Sans, sans-serif" text-anchor="middle" >1</text>
<text x="351.3" y="230.7" font-size="14.5" fill="#111" stroke="#111" stroke-width="0.3" font-family="DejaVu Sans, Liberation Sans, sans-serif" text-anchor="middle" >0</text>
<text x="406.0" y="231.7" font-size="14.5" fill="#111" stroke="#111" stroke-width="0.3" font-family="DejaVu Sans, Liberation Sans, sans-serif" text-anchor="middle" >1</text>
<text x="213.5" y="271.9" font-size="14.5" fill="#111" stroke="#111" stroke-width="0.3" font-family="DejaVu Sans, Liberation Sans, sans-serif" text-anchor="middle" >0</text>
<text x="326.3" y="271.4" font-size="14.5" fill="#111" stroke="#111" stroke-width="0.3" font-family="DejaVu Sans, Liberation Sans, sans-serif" text-anchor="middle" >0</text>
<text x="414.8" y="270.4" font-size="14.5" fill="#111" stroke="#111" stroke-width="0.3" font-family="DejaVu Sans, Liberation Sans, sans-serif" text-anchor="middle" >0</text>
<text x="214.7" y="310.5" font-size="14.5" fill="#111" stroke="#111" stroke-width="0.3" font-family="DejaVu Sans, Liberation Sans, sans-serif" text-anchor="middle" >1</text>
<text x="295.0" y="309.8" font-size="14.5" fill="#111" stroke="#111" stroke-width="0.3" font-family="DejaVu Sans, Liberation Sans, sans-serif" text-anchor="middle" >0</text>
<text x="353.0" y="311.3" font-size="14.5" fill="#111" stroke="#111" stroke-width="0.3" font-family="DejaVu Sans, Liberation Sans, sans-serif" text-anchor="middle" >1</text>
<text x="404.4" y="308.0" font-size="14.5" fill="#111" stroke="#111" stroke-width="0.3" font-family="DejaVu Sans, Liberation Sans, sans-serif" text-anchor="middle" >0</text>
<text x="180.0" y="349.2" font-size="14.5" fill="#111" stroke="#111" stroke-width="0.3" font-family="DejaVu Sans, Liberation Sans, sans-serif" text-anchor="middle" >1</text>
<text x="311.6" y="346.2" font-size="14.5" fill="#111" stroke="#111" stroke-width="0.3" font-family="DejaVu Sans, Liberation Sans, sans-serif" text-anchor="middle" >0</text>
<text x="181.5" y="386.5" font-size="14.5" fill="#111" stroke="#111" stroke-width="0.3" font-family="DejaVu Sans, Liberation Sans, sans-serif" text-anchor="middle" >0</text>
<text x="328.5" y="386.5" font-size="14.5" fill="#111" stroke="#111" stroke-width="0.3" font-family="DejaVu Sans, Liberation Sans, sans-serif" text-anchor="middle" >1</text>
<text x="182.2" y="426.3" font-size="14.5" fill="#111" stroke="#111" stroke-width="0.3" font-family="DejaVu Sans, Liberation Sans, sans-serif" text-anchor="middle" >0</text>
<text x="297.4" y="426.7" font-size="14.5" fill="#111" stroke="#111" stroke-width="0.3" font-family="DejaVu Sans, Liberation Sans, sans-serif" text-anchor="middle" >1</text>
<text x="352.9" y="425.4" font-size="14.5" fill="#111" stroke="#111" stroke-width="0.3" font-family="DejaVu Sans, Liberation Sans, sans-serif" text-anchor="middle" >0</text>
<text x="407.4" y="425.4" font-size="14.5" fill="#111" stroke="#111" stroke-width="0.3" font-family="DejaVu Sans, Liberation Sans, sans-serif" text-anchor="middle" >1</text>
<text x="135.6" y="144.7" font-size="14" fill="#111" stroke="#111" stroke-width="0.3" font-family="Liberation Sans, sans-serif" text-anchor="start" >P</text>
<text x="129.2" y="181.1" font-size="14" fill="#111" stroke="#111" stroke-width="0.3" font-family="Liberation Sans, sans-serif" text-anchor="start" >AP</text>
<text x="197.8" y="125.7" font-size="14" fill="#111" stroke="#111" stroke-width="0.3" font-family="Liberation Sans, sans-serif" text-anchor="start" >AP</text>
<text x="199.4" y="198.4" font-size="14" fill="#111" stroke="#111" stroke-width="0.3" font-family="Liberation Sans, sans-serif" text-anchor="start" >P</text>
<text x="337.0" y="143.0" font-size="14" fill="#111" stroke="#111" stroke-width="0.3" font-family="Liberation Sans, sans-serif" text-anchor="start" >P</text>
<text x="325.3" y="185.0" font-size="14" fill="#111" stroke="#111" stroke-width="0.3" font-family="Liberation Sans, sans-serif" text-anchor="start" >AP</text>
<text x="132.6" y="459.0" font-size="13.5" fill="#111" stroke="#111" stroke-width="0.3" font-family="DejaVu Sans, Liberation Sans, sans-serif" text-anchor="start" >P</text>
<text x="127.3" y="521.6" font-size="14.9" fill="#111" stroke="#111" stroke-width="0.3" font-family="DejaVu Sans, Liberation Sans, sans-serif" text-anchor="start" >AP</text>
<text x="204.2" y="467.2" font-size="14" fill="#111" stroke="#111" stroke-width="0.3" font-family="DejaVu Sans, Liberation Sans, sans-serif" text-anchor="start" >AP</text>
<text x="203.6" y="506.8" font-size="13.6" fill="#111" stroke="#111" stroke-width="0.3" font-family="DejaVu Sans, Liberation Sans, sans-serif" text-anchor="start" >P</text>
<text x="327.8" y="460.6" font-size="13.5" fill="#111" stroke="#111" stroke-width="0.3" font-family="DejaVu Sans, Liberation Sans, sans-serif" text-anchor="start" >P</text>
<text x="321.0" y="508.0" font-size="14.2" fill="#111" stroke="#111" stroke-width="0.3" font-family="DejaVu Sans, Liberation Sans, sans-serif" text-anchor="start" >AP</text>
<text x="134.5" y="617.4" font-size="14.5" fill="#111" stroke="#111" stroke-width="0.3" font-family="DejaVu Sans, Liberation Sans, sans-serif" text-anchor="start" >P</text>
<text x="128.9" y="700.6" font-size="15.2" fill="#111" stroke="#111" stroke-width="0.3" font-family="DejaVu Sans, Liberation Sans, sans-serif" text-anchor="start" >AP</text>
<text x="193.3" y="643.9" font-size="15.2" fill="#111" stroke="#111" stroke-width="0.3" font-family="DejaVu Sans, Liberation Sans, sans-serif" text-anchor="start" >AP</text>
<text x="198.2" y="680.2" font-size="15.4" fill="#111" stroke="#111" stroke-width="0.3" font-family="DejaVu Sans, Liberation Sans, sans-serif" text-anchor="start" >P</text>
<text x="331.1" y="637.7" font-size="14.5" fill="#111" stroke="#111" stroke-width="0.3" font-family="DejaVu Sans, Liberation Sans, sans-serif" text-anchor="start" >P</text>
<text x="328.5" y="680.2" font-size="15.4" fill="#111" stroke="#111" stroke-width="0.3" font-family="DejaVu Sans, Liberation Sans, sans-serif" text-anchor="start" >AP</text>
<text transform="translate(187.6,143.2) scale(1.123,1)" font-size="13.8" fill="#1f6fc4" stroke="#1f6fc4" stroke-width="0.3" font-family="Liberation Sans, sans-serif" text-anchor="start">Written “0”</text>
<text transform="translate(296.6,130.2) scale(1.142,1)" font-size="13.7" fill="#1f6fc4" stroke="#1f6fc4" stroke-width="0.3" font-family="Liberation Sans, sans-serif" text-anchor="start">Written “1”</text>
<text x="396.0" y="115.4" font-size="14.95" fill="#3467ae" stroke="#3467ae" stroke-width="0.3" font-family="DejaVu Sans, Liberation Sans, sans-serif" text-anchor="start" >Redundant</text>
<text x="402.6" y="130.9" font-size="14.8" fill="#3467ae" stroke="#3467ae" stroke-width="0.3" font-family="DejaVu Sans, Liberation Sans, sans-serif" text-anchor="start" >write</text>
<text x="158.8" y="450.3" font-size="14.9" fill="#3467ae" stroke="#3467ae" stroke-width="0.3" font-family="DejaVu Sans, Liberation Sans, sans-serif" text-anchor="start" >Written 0</text>
<text x="276.8" y="484.5" font-size="14.6" fill="#3467ae" stroke="#3467ae" stroke-width="0.3" font-family="DejaVu Sans, Liberation Sans, sans-serif" text-anchor="start" >Written 1</text>
<text x="392.4" y="470.5" font-size="14.9" fill="#3467ae" stroke="#3467ae" stroke-width="0.3" font-family="DejaVu Sans, Liberation Sans, sans-serif" text-anchor="start" >Redundant</text>
<text x="392.4" y="487.8" font-size="14.9" fill="#3467ae" stroke="#3467ae" stroke-width="0.3" font-family="DejaVu Sans, Liberation Sans, sans-serif" text-anchor="start" >write</text>
<text x="169.8" y="626.8" font-size="14.6" fill="#3467ae" stroke="#3467ae" stroke-width="0.3" font-family="DejaVu Sans, Liberation Sans, sans-serif" text-anchor="start" >Written 0</text>
<text x="292.7" y="657.3" font-size="14.5" fill="#3467ae" stroke="#3467ae" stroke-width="0.3" font-family="DejaVu Sans, Liberation Sans, sans-serif" text-anchor="start" >Written 1</text>
<text x="403.2" y="637.0" font-size="14.9" fill="#3467ae" stroke="#3467ae" stroke-width="0.3" font-family="DejaVu Sans, Liberation Sans, sans-serif" text-anchor="start" >Redundant</text>
<text x="403.2" y="654.0" font-size="14.9" fill="#3467ae" stroke="#3467ae" stroke-width="0.3" font-family="DejaVu Sans, Liberation Sans, sans-serif" text-anchor="start" >write</text>
<text x="268.3" y="259.7" font-size="14.7" fill="#111" stroke="#111" stroke-width="0.3" font-family="DejaVu Sans, Liberation Sans, sans-serif" text-anchor="start" >200ps</text>
<line x1="226.0" y1="267.2" x2="256.2" y2="267.2" stroke="#2f5fa8" stroke-width="1.7"/>
<path d="M264.2,267.2L255.2,262.2L255.2,272.2Z" fill="#2f5fa8"/>
<line x1="306.0" y1="267.2" x2="276.0" y2="267.2" stroke="#2f5fa8" stroke-width="1.7"/>
<path d="M268.0,267.2L277.0,262.2L277.0,272.2Z" fill="#2f5fa8"/>
<line x1="156.8" y1="541.8" x2="165.5" y2="541.8" stroke="#4473b4" stroke-width="1.4" stroke-dasharray="3.2 1.3"/>
<path d="M171.8,541.8L163.2,535.5L165.5,541.8L163.2,548.1Z" fill="#2f5fa8"/>
<line x1="270.5" y1="547.6" x2="279.5" y2="547.6" stroke="#4473b4" stroke-width="1.4" stroke-dasharray="3.2 1.3"/>
<path d="M285.8,547.6L277.2,541.3L279.5,547.6L277.2,553.9Z" fill="#2f5fa8"/>
<line x1="381.8" y1="546.8" x2="389.5" y2="546.8" stroke="#4473b4" stroke-width="1.4" stroke-dasharray="3.2 1.3"/>
<path d="M395.8,546.8L387.2,540.5L389.5,546.8L387.2,553.1Z" fill="#2f5fa8"/>
<line x1="155.4" y1="584.5" x2="164.3" y2="584.5" stroke="#4473b4" stroke-width="1.4" stroke-dasharray="3.2 1.3"/>
<path d="M170.6,584.5L162.0,578.2L164.3,584.5L162.0,590.8Z" fill="#2f5fa8"/>
<line x1="268.9" y1="590.4" x2="277.8" y2="590.4" stroke="#4473b4" stroke-width="1.4" stroke-dasharray="3.2 1.3"/>
<path d="M284.1,590.4L275.5,584.1L277.8,590.4L275.5,596.7Z" fill="#2f5fa8"/>
<line x1="381.0" y1="589.3" x2="389.0" y2="589.3" stroke="#4473b4" stroke-width="1.4" stroke-dasharray="3.2 1.3"/>
<path d="M395.3,589.3L386.7,583.0L389.0,589.3L386.7,595.6Z" fill="#2f5fa8"/>
<path d="M447,75.7 C465,75.7 481.2,78.7 481.2,88.7 L481.2,123.6 C481.2,133.6 501.5,137.6 515.5,137.6 C501.5,137.6 481.2,141.6 481.2,151.6 L481.2,186 C481.2,196 465,199 447,199" fill="none" stroke="#85109a" stroke-width="1.8"/>
<path d="M447.8,209.2 C465.8,209.2 482.3,212.2 482.3,235.2 L482.3,339.7 C482.3,360.7 502.29999999999995,364.7 516.3,364.7 C502.29999999999995,364.7 482.3,368.7 482.3,389.7 L482.3,492.6 C482.3,515.6 465.8,518.6 447.8,518.6" fill="none" stroke="#85109a" stroke-width="1.8"/>
<path d="M454.8,546.2 C472.8,546.2 489.6,549.2 489.6,560.2 L489.6,609.3 C489.6,619.3 508.79999999999995,623.3 522.8,623.3 C508.79999999999995,623.3 489.6,627.3 489.6,637.3 L489.6,687.2 C489.6,698.2 472.8,701.2 454.8,701.2" fill="none" stroke="#85109a" stroke-width="1.8"/>
<text transform="translate(528.2,49.5) rotate(90) scale(0.947,1)" font-size="18.8" fill="#111" stroke="#111" stroke-width="0.3" font-family="DejaVu Sans, Liberation Sans, sans-serif" text-anchor="start">STT write circuit</text>
<text transform="translate(528.2,254.4) rotate(90) scale(0.949,1)" font-size="18.8" fill="#111" stroke="#111" stroke-width="0.3" font-family="DejaVu Sans, Liberation Sans, sans-serif" text-anchor="start">SHE+STT write circuit</text>
<text transform="translate(528.2,534.4) rotate(90) scale(0.94,1)" font-size="18.8" fill="#111" stroke="#111" stroke-width="0.3" font-family="DejaVu Sans, Liberation Sans, sans-serif" text-anchor="start">VG+SOT write circuit</text>
<line x1="95.5" y1="707.2" x2="436.8" y2="707.2" stroke="#222" stroke-width="1.1"/>
<path d="M103.7,707.2V719.2M109.3,707.2V715.3M114.9,707.2V715.3M120.4,707.2V715.3M126.0,707.2V719.2M131.6,707.2V715.3M137.2,707.2V715.3M142.8,707.2V715.3M148.4,707.2V715.3M154.0,707.2V719.2M159.5,707.2V715.3M165.1,707.2V715.3M170.7,707.2V715.3M176.3,707.2V715.3M181.9,707.2V719.2M187.5,707.2V715.3M193.1,707.2V715.3M198.6,707.2V715.3M204.2,707.2V715.3M209.8,707.2V719.2M215.4,707.2V715.3M221.0,707.2V715.3M226.6,707.2V715.3M232.2,707.2V715.3M237.8,707.2V719.2M243.3,707.2V715.3M248.9,707.2V715.3M254.5,707.2V715.3M260.1,707.2V715.3M265.7,707.2V719.2M271.3,707.2V715.3M276.9,707.2V715.3M282.4,707.2V715.3M288.0,707.2V715.3M293.6,707.2V719.2M299.2,707.2V715.3M304.8,707.2V715.3M310.4,707.2V715.3M316.0,707.2V715.3M321.5,707.2V719.2M327.1,707.2V715.3M332.7,707.2V715.3M338.3,707.2V715.3M343.9,707.2V715.3M349.5,707.2V719.2M355.1,707.2V715.3M360.6,707.2V715.3M366.2,707.2V715.3M371.8,707.2V715.3M377.4,707.2V719.2M383.0,707.2V715.3M388.6,707.2V715.3M394.2,707.2V715.3M399.7,707.2V715.3M405.3,707.2V719.2M410.9,707.2V715.3M416.5,707.2V715.3M422.1,707.2V715.3M427.7,707.2V715.3M433.3,707.2V719.2" stroke="#222" stroke-width="1.1" fill="none"/>
<text x="98.7" y="736.3" font-size="14" fill="#111" stroke="#111" stroke-width="0.3" font-family="DejaVu Sans, Liberation Sans, sans-serif" text-anchor="middle" >0.0</text>
<text x="155.1" y="736.3" font-size="14" fill="#111" stroke="#111" stroke-width="0.3" font-family="DejaVu Sans, Liberation Sans, sans-serif" text-anchor="middle" >10.0</text>
<text x="211.3" y="736.3" font-size="14" fill="#111" stroke="#111" stroke-width="0.3" font-family="DejaVu Sans, Liberation Sans, sans-serif" text-anchor="middle" >20.0</text>
<text x="267.0" y="736.3" font-size="14" fill="#111" stroke="#111" stroke-width="0.3" font-family="DejaVu Sans, Liberation Sans, sans-serif" text-anchor="middle" >30.0</text>
<text x="323.2" y="736.3" font-size="14" fill="#111" stroke="#111" stroke-width="0.3" font-family="DejaVu Sans, Liberation Sans, sans-serif" text-anchor="middle" >40.0</text>
<text x="379.5" y="736.3" font-size="14" fill="#111" stroke="#111" stroke-width="0.3" font-family="DejaVu Sans, Liberation Sans, sans-serif" text-anchor="middle" >50.0</text>
<text x="435.7" y="736.3" font-size="14" fill="#111" stroke="#111" stroke-width="0.3" font-family="DejaVu Sans, Liberation Sans, sans-serif" text-anchor="middle" >60.0</text>
<text x="239.6" y="755.2" font-size="13.2" fill="#111" stroke="#111" stroke-width="0.3" font-family="DejaVu Sans, Liberation Sans, sans-serif" text-anchor="start" >Time (ns)</text>
</svg>
</body></html>
